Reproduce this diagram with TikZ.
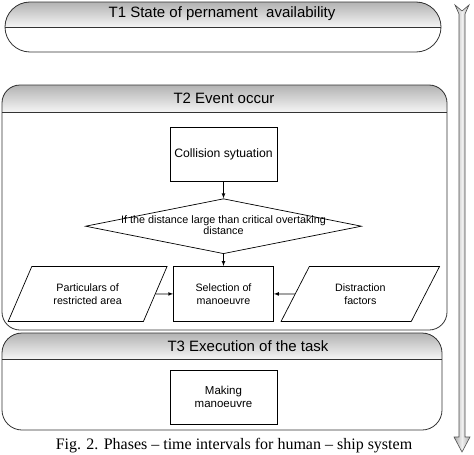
\documentclass[tikz,border=0pt]{standalone}
\usepackage{fontspec}
\setmainfont{Liberation Sans}
\newfontfamily\capfont{Liberation Serif}
\usetikzlibrary{shapes.geometric, arrows, positioning}

\begin{document}
\begin{tikzpicture}[x=1pt, y=-1pt,
                panel/.style={draw=black!80, line width=0.8pt},
                headfill/.style={top color=gray!60, bottom color=gray!8},
                phase/.style={font=\fontsize{15}{17}\selectfont},
                box/.style={draw, rectangle, minimum width=107pt, minimum height=54pt, align=center, line width=0.7pt, font=\fontsize{12.2}{14}\selectfont},
                smallbox/.style={box, minimum width=100pt, minimum height=55pt, font=\fontsize{10.7}{13}\selectfont},
                decision/.style={draw, diamond, minimum width=276pt, minimum height=55pt, inner sep=0pt, line width=0.7pt, font=\fontsize{10.8}{12}\selectfont},
                data/.style={draw, trapezium, trapezium left angle=60, trapezium right angle=120, trapezium stretches=true, minimum height=55pt, minimum width=159pt, align=center, line width=0.7pt, font=\fontsize{10.7}{13}\selectfont},
                arrow/.style={-latex, line width=0.7pt}
            ]
                \useasboundingbox (0,0) rectangle (474,455);

                % Phase panels
                \begin{scope}
                    \clip[rounded corners=25pt] (5,2) rectangle (441,52);
                    \fill[headfill] (5,2) rectangle (441,27);
                \end{scope}
                \draw[panel, rounded corners=25pt] (5,2) rectangle (441,52);
                \draw[panel] (5,27) -- (441,27);

                \begin{scope}
                    \clip[rounded corners=18pt] (2,85) rectangle (447,330);
                    \fill[headfill] (2,85) rectangle (447,112);
                \end{scope}
                \draw[panel, rounded corners=18pt] (2,85) rectangle (447,330);
                \draw[panel] (2,112) -- (447,112);

                \begin{scope}
                    \clip[rounded corners=20pt] (2,333) rectangle (442,430);
                    \fill[headfill] (2,333) rectangle (442,359);
                \end{scope}
                \draw[panel, rounded corners=20pt] (2,333) rectangle (442,430);
                \draw[panel] (2,359) -- (442,359);

                % Time axis
                \draw[draw=black!70, line width=0.6pt, left color=gray!65, right color=gray!65, middle color=gray!12]
                    (455,5) -- (462,11) -- (469,5) -- (465,14) -- (465,437) -- (470,437) -- (462,452)
                    -- (454,437) -- (459,437) -- (459,14) -- cycle;

                % Nodes
                \node (t1) [phase] at (222,14) {T1 State of pernament\ \ availability};
                \node (t2) [phase] at (224,98) {T2 Event occur};
                \node (t3) [phase] at (248,346) {T3 Execution of the task};

                \node (coll) [box] at (223.5,154) {Collision sytuation};
                \node (dist) [decision, below=17pt of coll] {\makebox[0pt]{\begin{tabular}{@{}c@{}}If the distance large than critical overtaking\\[-1pt]distance\end{tabular}}};
                \node (sel) [smallbox, below=12pt of dist] {Selection of\\manoeuvre};
                \node (part) [data, left=17.5pt of sel] {Particulars of\\restricted area};
                \node (distr) [data, right=21pt of sel] {Distraction\\factors};

                \node (make) [box, font=\fontsize{11.5}{13.5}\selectfont] at (223.5,397) {Making\\manoeuvre};

                \node (cap) [font=\capfont\fontsize{16}{18}\selectfont] at (234,446) {Fig. 2. Phases – time intervals for human – ship system};

                % Arrows
                \draw [arrow] (coll) -- (dist);
                \draw [arrow] (dist) -- (sel);
                \draw [arrow] (part) -- (sel);
                \draw [arrow] (distr) -- (sel);
            \end{tikzpicture}
\end{document}
